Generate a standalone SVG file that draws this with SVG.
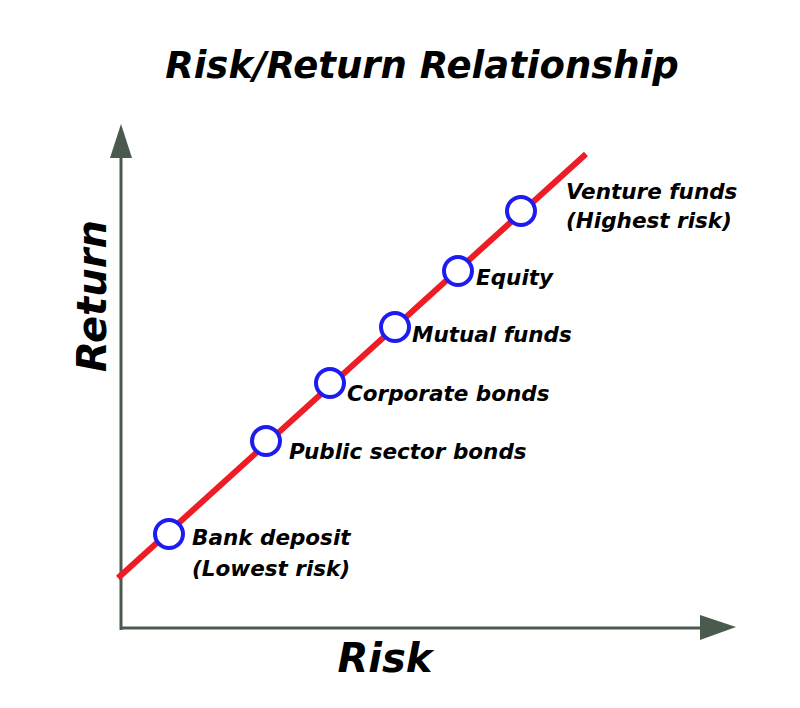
<svg xmlns="http://www.w3.org/2000/svg" width="800" height="708" viewBox="0 0 800 708">
<style>
.t{font-family:"DejaVu Sans",Verdana,sans-serif;font-style:italic;font-weight:bold;fill:#000}
.l{font-size:21.5px}
.ax{stroke:#4a5a4c;stroke-width:3;fill:none}
.pt{fill:#fff;stroke:#1c1cf0;stroke-width:4}
</style>
<rect width="800" height="708" fill="#fff"/>
<text class="t" x="422" y="78" font-size="37" text-anchor="middle">Risk/Return Relationship</text>
<g id="connectors">
<line class="ax" x1="121" y1="630" x2="121" y2="150"/>
<polygon points="121,124 110,158 132,158" fill="#4a5a4c"/>
<line class="ax" x1="120" y1="628" x2="710" y2="628"/>
<polygon points="736,627 700,615 700,640" fill="#4a5a4c"/>
<line x1="118" y1="578" x2="586" y2="154" stroke="#ee1c24" stroke-width="6"/>
</g>
<text class="t" font-size="40" transform="translate(106,296) rotate(-90)" text-anchor="middle">Return</text>
<text class="t" font-size="40" x="385" y="672" text-anchor="middle">Risk</text>
<g id="bank"><circle class="pt" cx="169" cy="534" r="14"/><text class="t l" x="192" y="545">Bank deposit</text><text class="t l" x="192" y="576">(Lowest risk)</text></g>
<g id="public"><circle class="pt" cx="266" cy="441" r="14"/><text class="t l" x="289" y="459">Public sector bonds</text></g>
<g id="corporate"><circle class="pt" cx="330" cy="383" r="14"/><text class="t l" x="347" y="401">Corporate bonds</text></g>
<g id="mutual"><circle class="pt" cx="395" cy="327" r="14"/><text class="t l" x="412" y="342">Mutual funds</text></g>
<g id="equity"><circle class="pt" cx="458" cy="271" r="14"/><text class="t l" x="476" y="285">Equity</text></g>
<g id="venture"><circle class="pt" cx="521" cy="211" r="14"/><text class="t l" x="566" y="199">Venture funds</text><text class="t l" x="566" y="228">(Highest risk)</text></g>
</svg>
